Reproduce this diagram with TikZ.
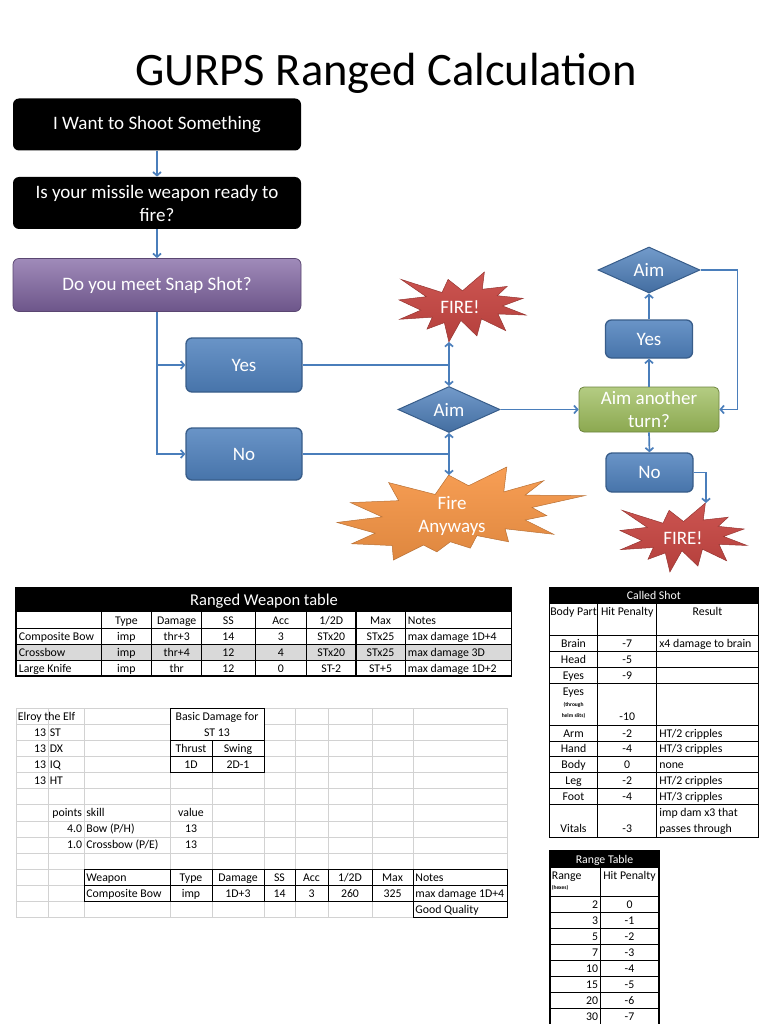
\documentclass[tikz,border=0pt]{standalone}
\usepackage{fontspec}
\setmainfont{Carlito}
\usepackage{tikz}
\usetikzlibrary{shapes.geometric,arrows.meta}
\definecolor{linkblue}{RGB}{74,126,187}
\definecolor{boxblue}{RGB}{79,129,189}
\definecolor{boxedge}{RGB}{56,93,138}
\definecolor{snappurple}{RGB}{128,100,162}
\definecolor{turngreen}{RGB}{155,187,89}
\definecolor{firered}{RGB}{200,70,66}
\definecolor{fireorange}{RGB}{247,150,70}
\definecolor{gridgray}{RGB}{210,210,210}
\definecolor{rowgray}{RGB}{217,217,217}
\tikzset{every picture/.style={line width=0.75pt}}
\tikzset{
  flowbox/.style={rectangle, rounded corners=6pt, text=white, align=center, inner sep=0pt,
    font=\fontsize{19}{23}\selectfont},
  blackbox/.style={flowbox, fill=black, minimum width=288pt, minimum height=52pt},
  purplebox/.style={flowbox, draw=snappurple!70!black, top color=snappurple!75!white,
    bottom color=snappurple!85!black, minimum width=288pt, minimum height=53pt},
  bluebox/.style={flowbox, draw=boxedge, line width=1.3pt, top color=boxblue!85!white,
    bottom color=boxblue!90!black},
  greenbox/.style={flowbox, rounded corners=5pt, draw=turngreen!70!black, top color=turngreen!75!white,
    bottom color=turngreen!90!black, minimum width=140pt, minimum height=45pt},
  aimdia/.style={diamond, draw=boxedge, line width=1pt, top color=boxblue!80!white,
    bottom color=boxblue!85!black, minimum width=102pt, minimum height=46pt, inner sep=0pt,
    text=white, font=\fontsize{19}{23}\selectfont},
  burst/.style={draw=#1!75!black, line width=0.5pt, top color=#1!92!white, bottom color=#1!90!black},
  burstlabel/.style={text=white, align=center, inner sep=0pt, font=\fontsize{19}{22.5}\selectfont},
  link/.style={draw=linkblue, line width=1.7pt},
  conn/.style={link, -{Straight Barb[length=3.5pt,width=8pt]}},
  cc/.style={anchor=base, inner sep=0pt, font=\fontsize{11.8}{13}\selectfont},
  cw/.style={cc, anchor=base west},
  ce/.style={cc, anchor=base east},
  wc/.style={cc, text=white},
  tinytext/.style={anchor=base, inner sep=0pt, font=\bfseries\fontsize{5.5}{6}\selectfont},
  rule/.style={draw=black, line width=0.8pt},
  frame/.style={draw=black, line width=1.4pt},
  gridline/.style={draw=gridgray, line width=0.6pt}
}
% explosion shapes, corner x, corner y, width, height, colour
\newcommand{\burstone}[5]{%
  \draw[burst=#5, shift={(#1,#2)}, xscale=#3/216, yscale=#4/216]
    (108,58) -- (145.22,0) -- (141.55,53.25) -- (183.80,44.57) -- (167.02,73.15) -- (210.97,81.37)
    -- (176.07,104.75) -- (216,132.90) -- (168.37,129.42) -- (181.45,180.95) -- (140.20,144.57)
    -- (132.47,197.37) -- (105.32,149.35) -- (84.85,216) -- (77.15,156.27) -- (47.62,176.17)
    -- (56.67,139.37) -- (1.35,145.87) -- (37.22,117.75) -- (0,86.15) -- (46.27,76.17)
    -- (3.70,22.95) -- (73.12,63.20) -- (83.52,22.95) -- cycle;}
\newcommand{\bursttwo}[5]{%
  \draw[burst=#5, shift={(#1,#2)}, xscale=#3/216, yscale=#4/216]
    (114.62,43.42) -- (147.90,0) -- (145.25,57.77) -- (180.07,31.72) -- (163.80,65.32) -- (216,66.45)
    -- (169.85,94.02) -- (182.70,112.90) -- (163.80,123.10) -- (188.77,156.32) -- (146.40,143.50)
    -- (149.42,173.70) -- (121.80,159.35) -- (116.12,188.42) -- (98.72,173.70) -- (87.00,197.12)
    -- (75.27,181.25) -- (49.17,216) -- (48.05,182.40) -- (12.85,178.25) -- (33.30,153.70)
    -- (0,128.77) -- (39.35,115.92) -- (11.72,82.70) -- (53.72,78.17) -- (45.02,36.25)
    -- (85.50,63.82) -- (97.22,18.87) -- cycle;}

\begin{document}
\begin{tikzpicture}[x=1pt,y=1pt,yscale=-1,xscale=1]
    \useasboundingbox (0,0) rectangle (768,1024);
    \fill[white] (0,0) rectangle (768,1024);
    \draw (386,86) node (title) [anchor=base, inner sep=0pt, font=\fontsize{46.5}{50}\selectfont] {GURPS Ranged Calculation};

    % flow chart
    \draw (157,124.5) node (want) [blackbox] {I Want to Shoot Something};
    \draw (157,203) node (ready) [blackbox] {Is your missile weapon ready to\\fire?};
    \draw (157,285) node (snap) [purplebox] {Do you meet Snap Shot?};
    \draw (244,365) node (yesA) [bluebox, minimum width=116pt, minimum height=54pt] {Yes};
    \draw (244,454) node (noA) [bluebox, minimum width=116pt, minimum height=52pt] {No};
    \draw (449,409.5) node (aimA) [aimdia] {Aim};
    \draw (649,409.5) node (turn) [greenbox] {Aim another\\turn?};
    \draw (649,339) node (yesB) [bluebox, minimum width=87pt, minimum height=38pt] {Yes};
    \draw (649,270) node (aimB) [aimdia] {Aim};
    \draw (649.5,472.5) node (noB) [bluebox, minimum width=87pt, minimum height=39pt] {No};

    \burstone{399}{272}{127}{70}{firered}
    \draw (460,307) node (fireA) [burstlabel] {FIRE!};
    \coordinate (fireA-tip) at (449,342);
    \bursttwo{337}{467}{248}{93}{fireorange}
    \draw (452,516) node (fireB) [burstlabel] {Fire\\Anyways};
    \coordinate (fireB-tip) at (449,475);
    \burstone{620}{503}{127}{69}{firered}
    \draw (683,538) node (fireC) [burstlabel] {FIRE!};
    \coordinate (fireC-tip) at (706,503);

    \coordinate (jA) at (449,365);
    \coordinate (jB) at (449,454);
    \draw[conn] (want) -- (ready);
    \draw[conn] (ready) -- (snap);
    \draw[conn] (snap.south) |- (yesA.west);
    \draw[conn] (snap.south) |- (noA.west);
    \draw[link] (yesA.east) -- (jA);
    \draw[conn] (jA) -- (fireA-tip);
    \draw[conn] (jA) -- (aimA.north);
    \draw[link] (noA.east) -- (jB);
    \draw[conn] (jB) -- (aimA.south);
    \draw[conn] (jB) -- (fireB-tip);
    \draw[conn] (aimA.east) -- (turn.west);
    \draw[conn] (turn.north) -- (yesB.south);
    \draw[conn] (yesB.north) -- (aimB.south);
    \draw[conn] (aimB.east) -- ++(37,0) |- (turn.east);
    \draw[conn] (turn.south) -- (noB.north);
    \draw[conn] (noB.east) -| (fireC-tip);

    % ranged weapon table
    \fill[black] (16,587.3) rectangle (511.7,612.3);
    \fill[rowgray] (16,644.3) rectangle (511.7,660.3);
    \foreach \y in {628.3,644.3,660.3} \draw[rule] (16,\y) -- (511.7,\y);
    \foreach \x in {101,151.7,201.7,255,306.7,405} \draw[rule] (\x,612.3) -- (\x,676);
    \draw[frame] (356,612.3) -- (356,676);
    \draw[frame] (16,587.3) rectangle (511.7,676);
    \draw (264,605.5) node (rwtitle) [wc, font=\fontsize{16.5}{18}\selectfont] {Ranged Weapon table};
    \draw (126.4,624.3) node (rwh1) [cc] {Type};
    \draw (176.7,624.3) node (rwh2) [cc] {Damage};
    \draw (228.3,624.3) node (rwh3) [cc] {SS};
    \draw (280.8,624.3) node (rwh4) [cc] {Acc};
    \draw (331.3,624.3) node (rwh5) [cc] {1/2D};
    \draw (380.5,624.3) node (rwh6) [cc] {Max};
    \draw (407.5,624.3) node (rwh7) [cw] {Notes};
    \draw (18.5,640.3) node (rwa0) [cw] {Composite Bow};
    \foreach \x/\t [count=\i] in {126.4/imp,176.7/thr+3,228.3/14,280.8/3,331.3/STx20,380.5/STx25}
      \draw (\x,640.3) node (rwa\i) [cc] {\t};
    \draw (407.5,640.3) node (rwa7) [cw] {max damage 1D+4};
    \draw (18.5,656.3) node (rwb0) [cw] {Crossbow};
    \foreach \x/\t [count=\i] in {126.4/imp,176.7/thr+4,228.3/12,280.8/4,331.3/STx20,380.5/STx25}
      \draw (\x,656.3) node (rwb\i) [cc] {\t};
    \draw (407.5,656.3) node (rwb7) [cw] {max damage 3D};
    \draw (18.5,672) node (rwc0) [cw] {Large Knife};
    \foreach \x/\t [count=\i] in {126.4/imp,176.7/thr,228.3/12,280.8/0,331.3/ST-2,380.5/ST+5}
      \draw (\x,672) node (rwc\i) [cc] {\t};
    \draw (407.5,672) node (rwc7) [cw] {max damage 1D+2};

    % character sheet
    \foreach \r in {0,...,13} \draw[gridline] (16,{708.3+16.08*\r}) -- (507,{708.3+16.08*\r});
    \foreach \x in {16,48,84,170,212,264,295,328,372,413,507} \draw[gridline] (\x,708.3) -- (\x,917.3);
    \fill[white] (170,708.3) rectangle (264,740.5);
    \draw[rule] (170,708.3) rectangle (264,772.6);
    \draw[rule] (170,740.5) -- (264,740.5);
    \draw[rule] (170,756.5) -- (264,756.5);
    \draw[rule] (212,740.5) -- (212,772.6);
    \draw[rule] (84,869.1) rectangle (507,901.3);
    \draw[rule] (84,885.2) -- (507,885.2);
    \foreach \x in {170,212,264,295,328,372,413} \draw[rule] (\x,869.1) -- (\x,901.3);
    \draw[rule] (413,901.3) rectangle (507,917.3);
    \draw (17.5,720.3) node (elroy) [cw] {Elroy the Elf};
    \foreach \a/\y [count=\i] in {ST/736.4,DX/752.5,IQ/768.5,HT/784.6} {
      \draw (46.5,\y) node (stat\i) [ce] {13};
      \draw (49.5,\y) node (attr\i) [cw] {\a};
    }
    \draw (217,720.3) node (bdam) [cc] {Basic Damage for};
    \draw (217,736.4) node (bdst) [cc] {ST 13};
    \draw (191,752.5) node (thrust) [cc] {Thrust};
    \draw (238,752.5) node (swing) [cc] {Swing};
    \draw (191,768.5) node (thrdice) [cc] {1D};
    \draw (238,768.5) node (swdice) [cc] {2D-1};
    \draw (82.5,816.8) node (points) [ce] {points};
    \draw (86,816.8) node (skill) [cw] {skill};
    \draw (191,816.8) node (value) [cc] {value};
    \draw (82.5,832.9) node (ptsA) [ce] {4.0};
    \draw (86,832.9) node (skA) [cw] {Bow (P/H)};
    \draw (191,832.9) node (valA) [cc] {13};
    \draw (82.5,848.9) node (ptsB) [ce] {1.0};
    \draw (86,848.9) node (skB) [cw] {Crossbow (P/E)};
    \draw (191,848.9) node (valB) [cc] {13};
    \draw (86,881.1) node (wph0) [cw] {Weapon};
    \draw (191,881.1) node (wph1) [cc] {Type};
    \draw (238,881.1) node (wph2) [cc] {Damage};
    \draw (279.5,881.1) node (wph3) [cc] {SS};
    \draw (311.5,881.1) node (wph4) [cc] {Acc};
    \draw (350,881.1) node (wph5) [cc] {1/2D};
    \draw (392.5,881.1) node (wph6) [cc] {Max};
    \draw (415,881.1) node (wph7) [cw] {Notes};
    \draw (86,897.2) node (wpa0) [cw] {Composite Bow};
    \foreach \x/\t [count=\i] in {191/imp,238/1D+3,279.5/14,311.5/3,350/260,392.5/325}
      \draw (\x,897.2) node (wpa\i) [cc] {\t};
    \draw (415,897.2) node (wpa7) [cw] {max damage 1D+4};
    \draw (415,913.3) node (wpq) [cw] {Good Quality};

    % called shot table
    \fill[black] (549.3,587.3) rectangle (758.3,603.3);
    \foreach \y in {603.3,635,651.7,667.7,683.3,725,741,756.7,772.7,788.3,804.3} \draw[rule] (549.3,\y) -- (758.3,\y);
    \foreach \x in {597.7,656.7} \draw[rule] (\x,603.3) -- (\x,837.3);
    \draw[frame] (549.3,587.3) rectangle (758.3,837.3);
    \draw (653.8,599.3) node (cstitle) [wc] {Called Shot};
    \draw (573.5,615.5) node (csh1) [cc] {Body Part};
    \draw (627.2,615.5) node (csh2) [cc] {Hit Penalty};
    \draw (707.5,615.5) node (csh3) [cc] {Result};
    \foreach \p/\h/\y [count=\i] in {Brain/-7/647.3,Head/-5/663.7,Eyes/-9/679.5,Arm/-2/737,Hand/-4/752.8,Body/0/768.7,Leg/-2/784.5,Foot/-4/800.3} {
      \draw (573.5,\y) node (cspart\i) [cc] {\p};
      \draw (627.2,\y) node (cspen\i) [cc] {\h};
    }
    \draw (659,647.3) node (csres1) [cw] {x4 damage to brain};
    \draw (659,737) node (csres4) [cw] {HT/2 cripples};
    \draw (659,752.8) node (csres5) [cw] {HT/3 cripples};
    \draw (659,768.7) node (csres6) [cw] {none};
    \draw (659,784.5) node (csres7) [cw] {HT/2 cripples};
    \draw (659,800.3) node (csres8) [cw] {HT/3 cripples};
    \draw (573.5,695.7) node (cseyes) [cc] {Eyes};
    \draw (573.5,706) node (csthrough) [tinytext] {(through};
    \draw (573.5,717.5) node (cshelm) [tinytext] {helm slits)};
    \draw (627.2,720.5) node (cspeneyes) [cc] {-10};
    \draw (573.5,832.5) node (csvital) [cc] {Vitals};
    \draw (627.2,832.5) node (cspenvital) [cc] {-3};
    \draw (659,816.5) node (csresvA) [cw] {imp dam x3 that};
    \draw (659,832.5) node (csresvB) [cw] {passes through};

    % range table
    \fill[black] (550,851) rectangle (659,867.3);
    \foreach \y in {867.3,896,912.7,928.3,944.3,960.3,976,992,1008} \draw[rule] (550,\y) -- (659,\y);
    \draw[rule] (600,867.3) -- (600,1024);
    \draw[frame] (550,1024) -- (550,851) -- (659,851) -- (659,1024);
    \draw (604.5,863.2) node (rttitle) [wc] {Range Table};
    \draw (551.5,879) node (rth1) [cw] {Range};
    \draw (551.5,889.5) node (rthex) [tinytext, anchor=base west] {(hexes)};
    \draw (629.5,879) node (rth2) [cc] {Hit Penalty};
    \foreach \d/\h/\y [count=\i] in {2/0/908.3,3/-1/924.5,5/-2/940.3,7/-3/956.3,10/-4/972.1,15/-5/988,20/-6/1004,30/-7/1020} {
      \draw (598.5,\y) node (rtd\i) [ce] {\d};
      \draw (629.5,\y) node (rtp\i) [cc] {\h};
    }
\end{tikzpicture}
\end{document}
